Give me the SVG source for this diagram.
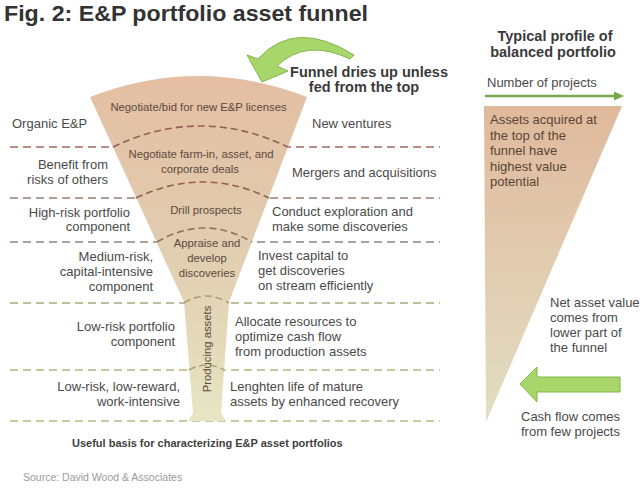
<svg xmlns="http://www.w3.org/2000/svg" width="640" height="488" viewBox="0 0 640 488">
<style>
text{font-family:"Liberation Sans",Arial,sans-serif;}
.side{font-size:13px;fill:#4a4a4a;}
.end{text-anchor:end;}
.mid{text-anchor:middle;}
.fun{font-size:11.3px;fill:#5b4a3f;text-anchor:middle;}
.tri{font-size:13px;fill:#5a4535;}
.hd{font-size:14.5px;font-weight:bold;fill:#3a3a3a;}
.hl{fill:none;stroke-width:1.6;stroke-dasharray:8 5;}
.arc{fill:none;stroke-width:1.6;stroke-dasharray:7 4;}
</style>
<defs>
<linearGradient id="gFun" x1="0" y1="76" x2="0" y2="421" gradientUnits="userSpaceOnUse">
<stop offset="0" stop-color="#e4bea2"/>
<stop offset="0.5" stop-color="#e1cdb0"/>
<stop offset="1" stop-color="#e7e5c3"/>
</linearGradient>
<linearGradient id="gTri" x1="0" y1="106" x2="0" y2="422" gradientUnits="userSpaceOnUse">
<stop offset="0" stop-color="#e0b99c"/>
<stop offset="1" stop-color="#e2dec3"/>
</linearGradient>
</defs>
<rect width="640" height="488" fill="#ffffff"/>
<text x="4" y="20.5" font-size="22" font-weight="bold" fill="#333333" textLength="364" lengthAdjust="spacingAndGlyphs">Fig. 2: E&amp;P portfolio asset funnel</text>

<g id="levels">
<line class="hl" x1="10" y1="147" x2="440" y2="147" stroke="#a06a5c"/>
<line class="hl" x1="10" y1="198" x2="440" y2="198" stroke="#938074"/>
<line class="hl" x1="10" y1="242" x2="440" y2="242" stroke="#8f857a"/>
<line class="hl" x1="10" y1="303" x2="440" y2="303" stroke="#aaa97c"/>
<line class="hl" x1="10" y1="370" x2="440" y2="370" stroke="#b5b57e"/>
<line class="hl" x1="10" y1="421" x2="440" y2="421" stroke="#b9b984"/>
</g>

<g id="funnel">
<path d="M90,97 Q198,55 307,97 L229,302 L221,413 L226,421 L188,421 L193,413 L184,302 Z" fill="url(#gFun)"/>
<path class="arc" d="M113,147 Q200,105 288,147" stroke="#94604f"/>
<path class="arc" d="M136,198 Q203,166 269,198" stroke="#94604f"/>
<path class="arc" d="M157,242 Q204,214 252,242" stroke="#8f7462"/>
<path class="arc" d="M184,303 Q206,289 229,303" stroke="#a7a46e"/>
<path class="arc" d="M189,370 Q207,360 224,370" stroke="#a9a76f"/>
<text class="fun" x="198.5" y="111" font-size="11.5">Negotiate/bid for new E&amp;P licenses</text>
<text class="fun" x="201" y="158" font-size="11.5">Negotiate farm-in, asset, and</text>
<text class="fun" x="200" y="173">corporate deals</text>
<text class="fun" x="206" y="214">Drill prospects</text>
<text class="fun" x="207" y="247">Appraise and</text>
<text class="fun" x="207" y="262">develop</text>
<text class="fun" x="207" y="277">discoveries</text>
<text class="fun" transform="translate(211,349) rotate(-90)" x="0" y="0">Producing assets</text>
</g>

<g id="feed-arrow">
<path d="M262,82 L247,55 L258,59 Q295,18 354,55 L350,59 Q306,38 277,66 L288,71 Z" fill="#a8d66a" stroke="#82b548" stroke-width="1"/>
<text class="hd mid" x="369" y="77" font-size="14">Funnel dries up unless</text>
<text class="hd mid" x="364" y="92" font-size="14">fed from the top</text>
</g>

<g id="left-labels">
<text class="side" x="12" y="128">Organic E&amp;P</text>
<text class="side end" x="108" y="169">Benefit from</text>
<text class="side end" x="108" y="184">risks of others</text>
<text class="side end" x="130" y="217">High-risk portfolio</text>
<text class="side end" x="130" y="231">component</text>
<text class="side end" x="153" y="261">Medium-risk,</text>
<text class="side end" x="153" y="276">capital-intensive</text>
<text class="side end" x="153" y="291">component</text>
<text class="side end" x="175" y="331">Low-risk portfolio</text>
<text class="side end" x="175" y="346">component</text>
<text class="side end" x="180" y="391">Low-risk, low-reward,</text>
<text class="side end" x="180" y="406">work-intensive</text>
</g>

<g id="right-labels">
<text class="side" x="312" y="128">New ventures</text>
<text class="side" x="292" y="177">Mergers and acquisitions</text>
<text class="side" x="272" y="216">Conduct exploration and</text>
<text class="side" x="272" y="231">make some discoveries</text>
<text class="side" x="258" y="260">Invest capital to</text>
<text class="side" x="258" y="275">get discoveries</text>
<text class="side" x="258" y="290">on stream efficiently</text>
<text class="side" x="235" y="326">Allocate resources to</text>
<text class="side" x="235" y="341">optimize cash flow</text>
<text class="side" x="235" y="356">from production assets</text>
<text class="side" x="230" y="391">Lenghten life of mature</text>
<text class="side" x="230" y="406">assets by enhanced recovery</text>
</g>

<text x="72" y="447" font-size="11" font-weight="bold" fill="#3f3f3f">Useful basis for characterizing E&amp;P asset portfolios</text>
<text x="23" y="481" font-size="10.5" fill="#9a9a9a">Source: David Wood &amp; Associates</text>

<g id="profile">
<text class="hd mid" x="555" y="41">Typical profile of</text>
<text class="hd mid" x="553" y="57">balanced portfolio</text>
<text class="side" x="487" y="87">Number of projects</text>
<line x1="485" y1="96" x2="615" y2="96" stroke="#7aa84c" stroke-width="2.5"/>
<polygon points="624,96 614,91.5 614,100.5" fill="#7aa84c"/>
<polygon points="484,106 622,106 486,422" fill="url(#gTri)"/>
<text class="tri" x="490" y="124">Assets acquired at</text>
<text class="tri" x="490" y="139.5">the top of the</text>
<text class="tri" x="490" y="155">funnel have</text>
<text class="tri" x="490" y="171">highest value</text>
<text class="tri" x="490" y="186">potential</text>
<text class="side" x="550" y="307" font-size="12.4">Net asset value</text>
<text class="side" x="550" y="322" font-size="12.4">comes from</text>
<text class="side" x="550" y="337" font-size="12.4">lower part of</text>
<text class="side" x="550" y="352" font-size="12.4">the funnel</text>
<polygon points="520,384 537,367 537,377 620,377 620,392 537,392 537,402" fill="#a8d66a" stroke="#82b548" stroke-width="1"/>
<text class="side" x="521" y="421">Cash flow comes</text>
<text class="side" x="521" y="436">from few projects</text>
</g>
</svg>
